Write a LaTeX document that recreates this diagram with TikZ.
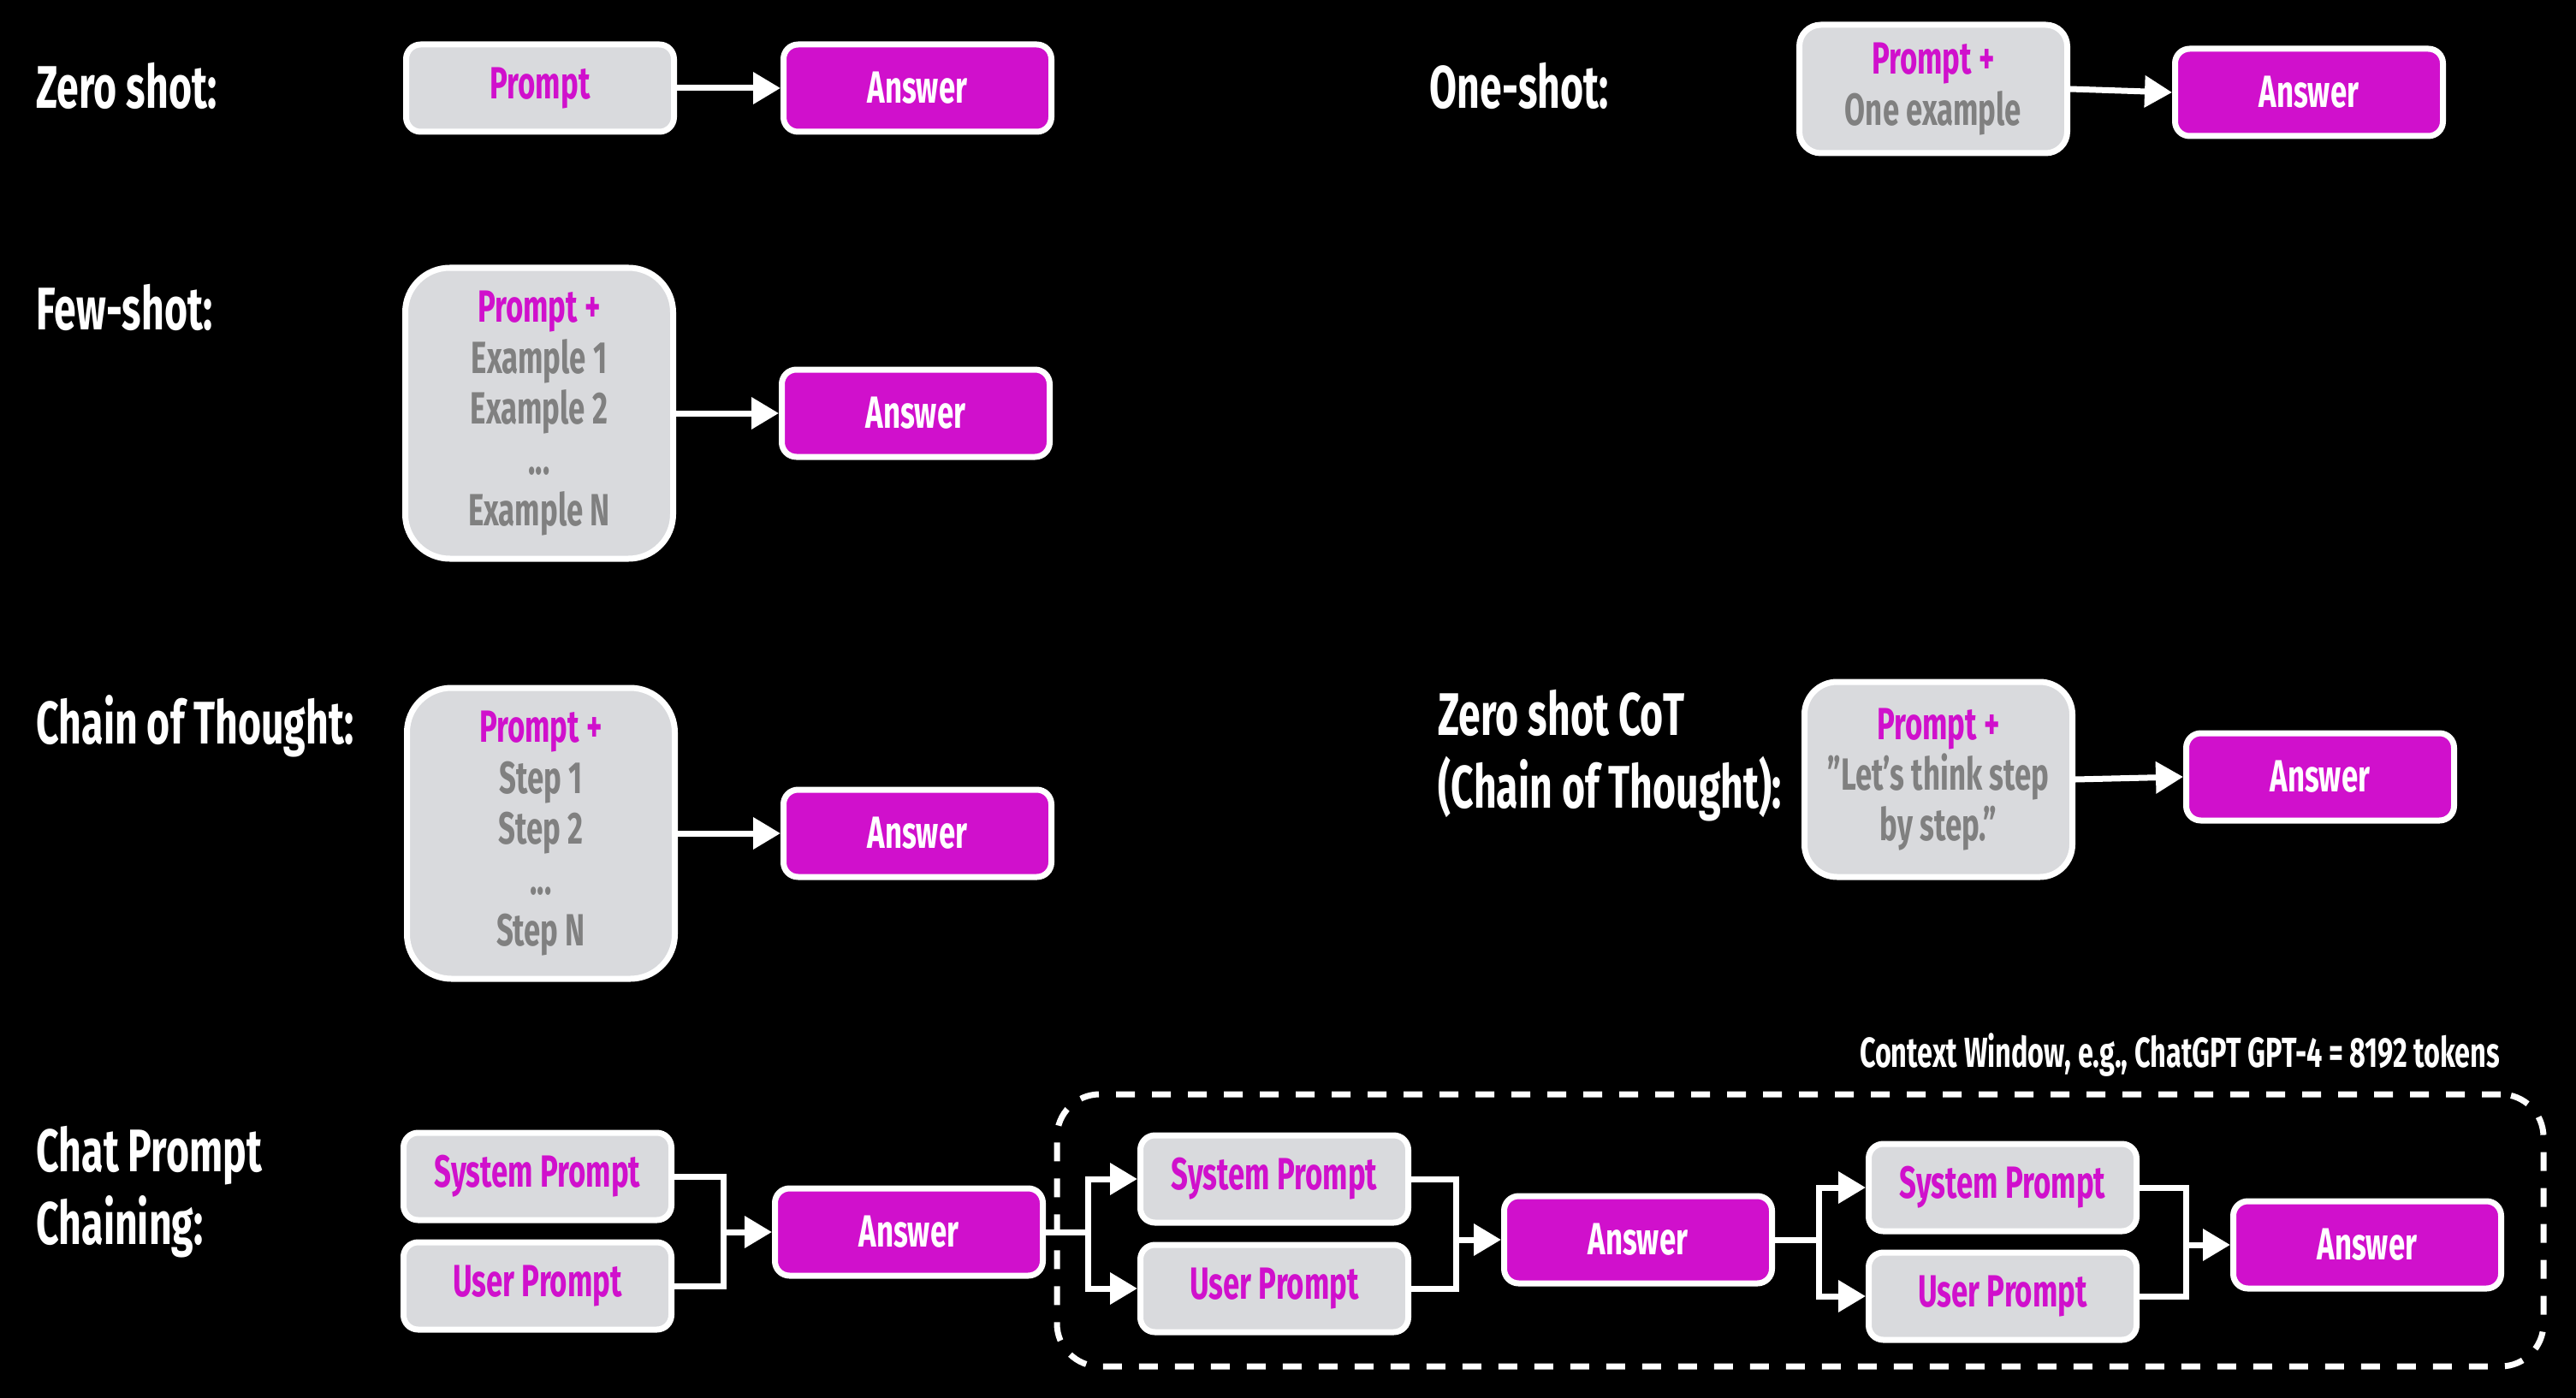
\documentclass[tikz,border=0pt]{standalone}
\usepackage{fontspec}
\setmainfont{Fira Sans}[FakeStretch=0.66]
\usetikzlibrary{arrows.meta,positioning,calc}
\definecolor{magentabox}{RGB}{208,16,204}
\definecolor{boxgray}{RGB}{217,218,221}
\definecolor{textgray}{RGB}{128,128,128}
\newcommand{\magtext}[1]{\textcolor{magentabox}{#1}}
\tikzset{
  rowlabel/.style={anchor=west,inner sep=0pt,text=white,align=left,font=\fontsize{20}{24}\selectfont\bfseries},
  promptbox/.style={draw=white,line width=0.07cm,fill=boxgray,rounded corners=0.17cm,minimum width=3.13cm,minimum height=1.02cm,align=center,text=textgray,font=\fontsize{15}{16.9}\selectfont\bfseries},
  answerbox/.style={promptbox,fill=magentabox,text=white},
  conn/.style={draw=white,line width=0.07cm,-{Triangle[length=0.32cm,width=0.36cm]}},
  wire/.style={draw=white,line width=0.07cm},
  ctxframe/.style={draw=white,line width=0.07cm,dash pattern=on 0.22cm off 0.2cm,rounded corners=0.5cm},
}
\begin{document}
\begin{tikzpicture}
        \fill[black] (0,0) rectangle (30.10,-16.34);
        \useasboundingbox (0,0) rectangle (30.10,-16.34);
        % zero shot
        \node[rowlabel] (lzero) at (0.42,-1.00) {Zero shot:};
        \node[promptbox] (pzero) at (6.31,-1.03) {\magtext{Prompt}};
        \node[answerbox] (azero) at (10.72,-1.03) {Answer};
        \draw[conn] (pzero) -- (azero);
        % one shot
        \node[rowlabel] (lone) at (16.70,-1.00) {One-shot:};
        \node[promptbox,minimum height=1.50cm,rounded corners=0.25cm] (pone) at (22.59,-1.04) {\magtext{Prompt +}\\One example};
        \node[answerbox] (aone) at (26.98,-1.08) {Answer};
        \draw[conn] (pone.east) -- (aone.west);
        % few shot
        \node[rowlabel] (lfew) at (0.42,-3.59) {Few-shot:};
        \node[promptbox,minimum height=3.40cm,rounded corners=0.52cm] (pfew) at (6.30,-4.83) {\magtext{Prompt +}\\Example 1\\Example 2\\...\\Example N};
        \node[answerbox] (afew) at (10.70,-4.83) {Answer};
        \draw[conn] (pfew) -- (afew);
        % chain of thought
        \node[rowlabel] (lcot) at (0.42,-8.49) {Chain of Thought:};
        \node[promptbox,minimum height=3.40cm,rounded corners=0.52cm] (pcot) at (6.32,-9.74) {\magtext{Prompt +}\\Step 1\\Step 2\\...\\Step N};
        \node[answerbox] (acot) at (10.72,-9.74) {Answer};
        \draw[conn] (pcot) -- (acot);
        % zero shot cot
        \node[rowlabel] (lzcot) at (16.80,-8.83) {Zero shot CoT\\(Chain of Thought):};
        \node[promptbox,minimum height=2.28cm,rounded corners=0.38cm] (pzcot) at (22.65,-9.11) {\magtext{Prompt +}\\”Let’s think step\\by step.”};
        \node[answerbox] (azcot) at (27.11,-9.08) {Answer};
        \draw[conn] (pzcot.east) -- (azcot.west);
        % chat prompt chaining
        \node[rowlabel] (lchat) at (0.42,-13.93) {Chat Prompt\\Chaining:};
        \node[ctxframe,minimum width=17.37cm,minimum height=3.18cm] (ctx) at (21.035,-14.38) {};
        \node[anchor=east,inner sep=0pt,text=white,font=\fontsize{14}{16}\selectfont\bfseries] (ctxlabel) at (29.22,-12.33) {Context Window, e.g., ChatGPT GPT-4 = 8192 tokens};
        \node[promptbox] (sysa) at (6.28,-13.75) {\magtext{System Prompt}};
        \node[promptbox] (usra) at (6.28,-15.03) {\magtext{User Prompt}};
        \node[answerbox] (ansa) at (10.62,-14.40) {Answer};
        \node[promptbox] (sysb) at (14.89,-13.78) {\magtext{System Prompt}};
        \node[promptbox] (usrb) at (14.89,-15.06) {\magtext{User Prompt}};
        \node[answerbox] (ansb) at (19.14,-14.49) {Answer};
        \node[promptbox] (sysc) at (23.40,-13.88) {\magtext{System Prompt}};
        \node[promptbox] (usrc) at (23.40,-15.15) {\magtext{User Prompt}};
        \node[answerbox] (ansc) at (27.66,-14.55) {Answer};
        \coordinate (ja) at (8.45,-14.40);
        \coordinate (ka) at (12.71,-14.40);
        \coordinate (jb) at (17.01,-14.49);
        \coordinate (kb) at (21.25,-14.49);
        \coordinate (jc) at (25.54,-14.55);
        \draw[wire] (sysa.east) -| (ja) |- (usra.east);
        \draw[conn] (ja) -- (ansa.west);
        \draw[wire] (ansa.east) -- (ka);
        \draw[conn] (ka) |- (sysb.west);
        \draw[conn] (ka) |- (usrb.west);
        \draw[wire] (sysb.east) -| (jb) |- (usrb.east);
        \draw[conn] (jb) -- (ansb.west);
        \draw[wire] (ansb.east) -- (kb);
        \draw[conn] (kb) |- (sysc.west);
        \draw[conn] (kb) |- (usrc.west);
        \draw[wire] (sysc.east) -| (jc) |- (usrc.east);
        \draw[conn] (jc) -- (ansc.west);
\end{tikzpicture}
\end{document}
